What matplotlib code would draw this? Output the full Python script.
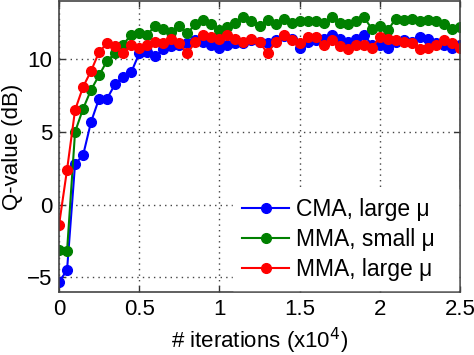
import numpy as np
import matplotlib
matplotlib.use("Agg")
import matplotlib.pyplot as plt

iterations = np.arange(51) * 0.05  # x10^4

cma_large = [-5.3, -4.5, 2.8, 3.4, 5.7, 7.3, 7.3, 8.3, 8.8, 9.1,
             10.4, 10.5, 10.2, 10.7, 10.9, 11.0, 11.1, 11.3, 11.2, 11.0,
             10.8, 11.0, 11.1, 11.1, 11.3, 11.2, 11.1, 11.3, 11.6, 11.4,
             10.8, 11.2, 11.3, 11.4, 11.7, 11.4, 11.2, 11.4, 11.7, 11.0,
             11.0, 10.8, 11.2, 11.3, 11.2, 11.5, 11.4, 11.1, 11.0, 10.8,
             11.0]
mma_small = [-3.1, -3.2, 5.0, 6.6, 7.9, 8.9, 9.9, 10.4, 11.0, 11.7,
             11.8, 11.7, 12.3, 12.1, 11.9, 12.3, 11.8, 12.4, 12.7, 12.4,
             12.0, 12.2, 12.5, 12.9, 12.6, 12.3, 12.7, 12.4, 12.8, 12.5,
             12.6, 12.6, 12.6, 12.5, 12.9, 12.5, 12.4, 12.6, 12.9, 12.1,
             12.3, 12.0, 12.8, 12.7, 12.8, 12.6, 12.7, 12.6, 12.4, 12.1,
             12.2]
mma_large = [-1.4, 2.4, 6.5, 8.1, 9.2, 10.5, 11.1, 10.9, 10.4, 11.0,
             10.8, 11.0, 11.2, 11.1, 11.4, 11.1, 10.4, 11.2, 11.7, 11.5,
             11.4, 11.7, 11.4, 11.2, 11.4, 11.2, 10.4, 11.2, 11.7, 11.3,
             11.1, 11.5, 11.5, 11.0, 11.3, 10.9, 10.7, 11.0, 11.0, 10.8,
             11.5, 11.4, 11.3, 11.2, 11.1, 10.7, 10.8, 11.0, 11.3, 11.1,
             10.8]

labels = ["CMA, large μ", "MMA, small μ", "MMA, large μ"]
colors = ["#0000ff", "#008000", "#ff0000"]
xticks = [0, 0.5, 1, 1.5, 2, 2.5]
xticklabels = ["0", "0.5", "1", "1.5", "2", "2.5"]
yticks = [-5, 0, 5, 10]

plt.rcParams['font.family'] = ['Liberation Sans', 'DejaVu Sans']
fig = plt.figure(figsize=(4.74, 3.55), dpi=100)
ax = fig.add_axes([0.1245, 0.1775, 0.846, 0.8195])

for y, c, lab in zip([cma_large, mma_small, mma_large], colors, labels):
    ax.plot(iterations, y, '-o', color=c, lw=1.5, ms=7, mec=c, mfc=c, label=lab)

ax.set_xlim(0, 2.5)
ax.set_ylim(-6, 14)
ax.set_xticks(xticks)
ax.set_xticklabels(xticklabels)
ax.set_yticks(yticks)
ax.tick_params(direction='in', top=True, right=True, labelsize=16, length=4,
               width=1, color='#333333', pad=5)
for s in ax.spines.values():
    s.set_color('#444444')
    s.set_linewidth(1.2)
ax.grid(True, linestyle=(0, (1, 3)), color='#444444', lw=1)
ax.set_xlabel("# iterations (x10$^4$)", fontsize=16, labelpad=4)
ax.set_ylabel("Q-value (dB)", fontsize=16, labelpad=3)

leg = ax.legend(loc='lower left', bbox_to_anchor=(0.434, 0.007, 0.561, 0.36),
                mode='expand', fontsize=16.5, frameon=True, fancybox=False,
                handlelength=2.05, handletextpad=0.3, labelspacing=0.3,
                borderaxespad=0.0, borderpad=0.4)
leg.get_frame().set_edgecolor('white')
leg.get_frame().set_facecolor('white')
leg.get_frame().set_alpha(1)

fig.savefig("out.png", dpi=100)
